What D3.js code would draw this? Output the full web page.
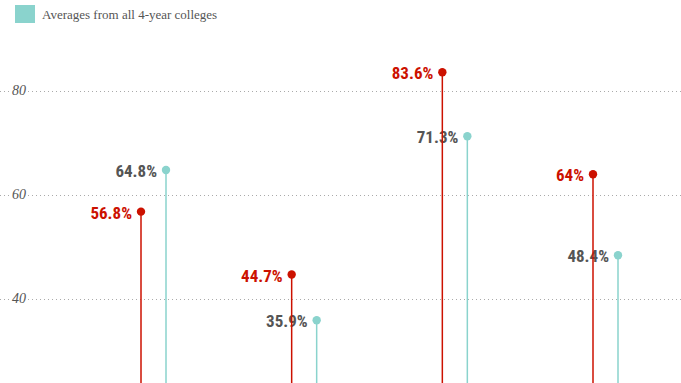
<!DOCTYPE html>
<html>
<head>
<meta charset="utf-8">
<script src="https://cdn.jsdelivr.net/npm/d3@7"></script>
<style>
  html, body { margin: 0; padding: 0; background: #fff; }
  svg { display: block; }
  .tick-label { font-family: "Liberation Serif", "DejaVu Serif", serif; font-style: italic; font-size: 14px; fill: #555; }
  .legend-text { font-family: "Liberation Serif", "DejaVu Serif", serif; font-size: 13px; fill: #555; }
  .val { font-family: "Liberation Sans Narrow", "Roboto Condensed", "Liberation Sans", sans-serif; font-weight: bold; font-size: 17px; }
</style>
</head>
<body>
<svg id="chart" width="681" height="383"></svg>
<script>
// ── data ───────────────────────────────────────────────
const groups = ["g1", "g2", "g3", "g4"];
const schoolValues = [56.8, 44.7, 83.6, 64];      // red
const averageValues = [64.8, 35.9, 71.3, 48.4];   // teal
const yTicks = [40, 60, 80];
const legendLabel = "Averages from all 4-year colleges";

const RED = "#cc1100", TEAL = "#8ad3cd", GREY = "#555";
const W = 681, H = 383;

const svg = d3.select("#chart");

const x = d3.scalePoint().domain(groups).range([141, 593]);
const y = d3.scaleLinear().domain([40, 80]).range([299, 91]);
const OFF = 25; // teal lollipop offset

// grid + tick labels
const grid = svg.append("g");
grid.selectAll("line").data(yTicks).join("line")
  .attr("x1", 0).attr("x2", W)
  .attr("y1", d => y(d) + 0.5).attr("y2", d => y(d) + 0.5)
  .attr("stroke", "#aaa").attr("stroke-width", 1)
  .attr("stroke-dasharray", "1,3");
grid.selectAll("text").data(yTicks).join("text")
  .attr("class", "tick-label")
  .attr("x", 12).attr("y", d => y(d) + 4)
  .attr("stroke", "#fff").attr("stroke-width", 4).attr("paint-order", "stroke")
  .text(d => d);

// lollipops
function series(vals, dx, color, textColor) {
  const g = svg.append("g");
  g.selectAll("line").data(vals).join("line")
    .attr("x1", (d, i) => x(groups[i]) + dx).attr("x2", (d, i) => x(groups[i]) + dx)
    .attr("y1", d => y(d)).attr("y2", y(0))
    .attr("stroke", color).attr("stroke-width", 1.5);
  g.selectAll("circle").data(vals).join("circle")
    .attr("cx", (d, i) => x(groups[i]) + dx).attr("cy", d => y(d))
    .attr("r", 4.2).attr("fill", color);
  g.selectAll("text").data(vals).join("text")
    .attr("class", "val")
    .attr("x", (d, i) => x(groups[i]) + dx - 9)
    .attr("y", d => y(d) + 7)
    .attr("text-anchor", "end")
    .attr("fill", textColor)
    .text(d => d + "%");
}
series(averageValues, OFF, TEAL, GREY);
series(schoolValues, 0, RED, RED);

// legend
svg.append("rect").attr("x", 15).attr("y", 5).attr("width", 20).attr("height", 18).attr("fill", TEAL);
svg.append("text").attr("class", "legend-text").attr("x", 42).attr("y", 19).text(legendLabel);
</script>
</body>
</html>
